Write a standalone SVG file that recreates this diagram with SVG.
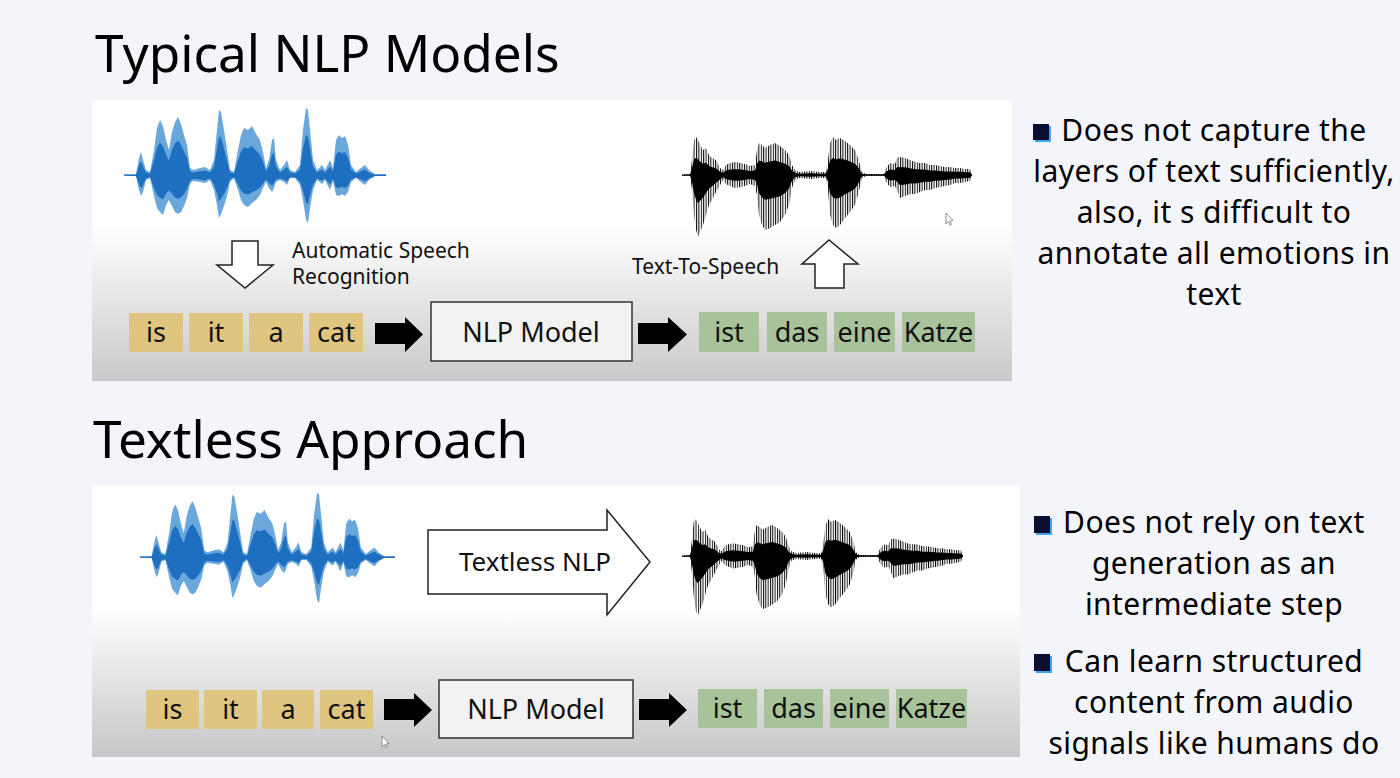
<svg xmlns="http://www.w3.org/2000/svg" width="1400" height="778" viewBox="0 0 1400 778">
<style>
.title{font-family:"Noto Sans","Open Sans",sans-serif;font-size:51.3px;fill:#000}
.lbl{font-family:"Noto Sans","Open Sans",sans-serif;font-size:21px;fill:#111}
.tok{font-family:"Noto Sans","Open Sans",sans-serif;font-size:27px;fill:#111;text-anchor:middle}
.nlp{font-family:"Noto Sans","Open Sans",sans-serif;font-size:27px;fill:#111;text-anchor:middle}
.bul{font-family:"Noto Sans","Open Sans",sans-serif;font-size:30px;letter-spacing:0.45px;fill:#000;text-anchor:middle}
.yel{fill:#dfc57f}
.grn{fill:#a8c39a}
.box{fill:#f2f2f2;stroke:#333;stroke-width:1.5}
.hollow{fill:#fff;stroke:#222;stroke-width:1.5;stroke-linejoin:miter}
.blk{fill:#000}
</style>
<defs>
<linearGradient id="g1" x1="0" y1="0" x2="0" y2="1">
<stop offset="0" stop-color="#ffffff"/>
<stop offset="0.45" stop-color="#ffffff"/>
<stop offset="1" stop-color="#c9c9c9"/>
</linearGradient>
<linearGradient id="g2" x1="0" y1="0" x2="0" y2="1">
<stop offset="0" stop-color="#ffffff"/>
<stop offset="0.45" stop-color="#ffffff"/>
<stop offset="1" stop-color="#c7c7c7"/>
</linearGradient>
<pattern id="stripes" patternUnits="userSpaceOnUse" width="2.4" height="10">
<rect x="0" y="0" width="1" height="10" fill="#000"/>
</pattern>
<path id="bluewave" d="M124,175 L136,174 L139,158 L141,152 L143,160 L146,170 L150,172 L154,150 L157,128 L160,120 L163,126 L166,140 L169,150 L172,132 L175,122 L178,117 L181,124 L184,135 L187,145 L190,168 L193,170 L200,168 L205,167 L210,170 L214,160 L217,130 L219,110 L221,112 L224,130 L227,150 L230,170 L234,172 L238,150 L241,135 L244,128 L248,130 L252,126 L256,134 L260,140 L263,152 L266,168 L269,160 L272,140 L274,138 L276,160 L280,170 L284,165 L287,160 L290,170 L295,172 L300,165 L303,130 L306,108 L308,110 L310,130 L313,160 L317,170 L322,165 L325,170 L330,160 L333,168 L336,140 L339,135 L342,138 L345,136 L348,145 L351,165 L356,172 L361,168 L365,165 L369,170 L375,174 L386,174 L386,176 L375,176 L369,180 L365,185 L361,182 L356,178 L351,182 L348,192 L345,196 L342,194 L339,196 L336,195 L333,181 L330,190 L325,180 L322,184 L317,180 L313,190 L310,208 L308,223 L306,220 L303,200 L300,185 L295,178 L290,178 L287,185 L284,182 L280,180 L276,182 L274,188 L272,192 L269,188 L266,182 L263,188 L260,195 L256,200 L252,203 L248,207 L244,205 L241,200 L238,190 L234,178 L230,182 L227,196 L224,206 L221,214 L219,218 L217,205 L214,190 L210,180 L205,183 L200,182 L193,181 L190,184 L187,198 L184,206 L181,212 L178,214 L175,212 L172,206 L169,200 L166,205 L163,215 L160,212 L157,208 L154,196 L150,178 L146,180 L143,192 L141,196 L139,190 L136,176 L124,176 Z"/>
<path id="blackwave" d="M682,175 L690,174 L692,160 L694,140 L696,137 L698,140 L700,145 L703,150 L706,148 L709,155 L712,158 L716,160 L720,168 L723,170 L726,165 L730,163 L735,162 L740,163 L745,164 L750,166 L755,165 L757,150 L759,143 L762,145 L765,148 L770,145 L775,143 L780,146 L785,150 L789,155 L792,165 L795,170 L800,172 L810,171 L820,172 L826,172 L828,160 L830,143 L833,137 L836,140 L840,138 L845,141 L850,145 L855,150 L858,158 L862,172 L866,174 L884,174 L886,168 L890,163 L895,164 L897,158 L900,157 L905,158 L910,160 L915,162 L920,163 L925,163 L930,165 L935,165 L940,166 L945,167 L950,167 L955,168 L960,168 L965,169 L970,169 L972,174 L972,176 L970,181 L965,182 L960,183 L955,183 L950,185 L945,186 L940,187 L935,188 L930,190 L925,190 L920,192 L915,194 L910,194 L905,196 L900,198 L897,190 L895,186 L890,187 L886,182 L884,176 L866,176 L862,178 L858,195 L855,205 L850,212 L845,218 L840,225 L836,228 L833,225 L830,215 L828,190 L826,178 L820,178 L810,179 L800,178 L795,180 L792,188 L789,205 L785,215 L780,222 L775,225 L770,228 L765,230 L762,225 L759,215 L757,195 L755,186 L750,184 L745,186 L740,187 L735,188 L730,186 L726,184 L723,180 L720,185 L716,192 L712,200 L709,205 L706,215 L703,225 L700,232 L698,237 L696,230 L694,215 L692,190 L690,176 L682,176 Z"/>
<g id="bluegrp">
<line x1="124" y1="175" x2="386" y2="175" stroke="#2a78c8" stroke-width="1.5"/>
<use href="#bluewave" fill="#6aa7dd"/>
<use href="#bluewave" fill="#1f6fc1" transform="translate(0,176) scale(1,0.6) translate(0,-176)"/>
</g>
<g id="blackgrp">
<line x1="682" y1="175" x2="972" y2="175" stroke="#000" stroke-width="1.2"/>
<use href="#blackwave" fill="url(#stripes)"/>
<use href="#blackwave" fill="#000" transform="translate(0,175) scale(1,0.45) translate(0,-175)"/>
</g>
</defs>
<rect x="0" y="0" width="1400" height="778" fill="#f4f5fa"/>

<g id="title1"><text class="title" x="95" y="72">Typical NLP Models</text></g>
<g id="title2"><text class="title" x="93" y="458">Textless Approach</text></g>

<!-- Panel 1 -->
<g id="panel1">
<rect x="92" y="100" width="920" height="281" fill="url(#g1)"/>
<use href="#bluegrp"/>
<use href="#blackgrp"/>
<path d="M946,213 L946,224 L948.5,221.5 L950,225 L951.5,224.3 L950,221 L953,220.5 Z" fill="#fff" stroke="#777" stroke-width="0.8"/>
</g>
<g id="asr-arrow"><path class="hollow" d="M232,241 L258,241 L258,265 L273,265 L245,288 L217,265 L232,265 Z"/></g>
<g id="asr-label"><text class="lbl" x="292" y="258">Automatic Speech</text><text class="lbl" x="292" y="284">Recognition</text></g>
<g id="tts-arrow"><path class="hollow" d="M815,288 L844,288 L844,264 L858,264 L829,240 L802,264 L815,264 Z"/></g>
<g id="tts-label"><text class="lbl" x="632" y="274">Text-To-Speech</text></g>
<g id="in1">
<rect class="yel" x="129" y="313" width="54" height="39"/><text class="tok" x="156" y="342">is</text>
<rect class="yel" x="189" y="313" width="54" height="39"/><text class="tok" x="216" y="342">it</text>
<rect class="yel" x="249" y="313" width="54" height="39"/><text class="tok" x="276" y="342">a</text>
<rect class="yel" x="309" y="313" width="54" height="39"/><text class="tok" x="336" y="342">cat</text>
</g>
<g id="nlp1"><rect class="box" x="431" y="302" width="201" height="59"/><text class="nlp" x="531" y="342">NLP Model</text></g>
<g id="out1">
<rect class="grn" x="699" y="312" width="60" height="40"/><text class="tok" x="729" y="342">ist</text>
<rect class="grn" x="767" y="312" width="60" height="40"/><text class="tok" x="797" y="342">das</text>
<rect class="grn" x="834" y="312" width="61" height="40"/><text class="tok" x="864.5" y="342">eine</text>
<rect class="grn" x="902" y="312" width="73" height="40"/><text class="tok" x="938.5" y="342">Katze</text>
</g>

<!-- Panel 2 -->
<g id="panel2">
<rect x="92" y="486" width="928" height="271" fill="url(#g2)"/>
<use href="#bluegrp" transform="translate(140,557) scale(0.973,0.96) translate(-124,-175)"/>
<use href="#blackgrp" transform="translate(682,556) scale(0.969,0.97) translate(-682,-175)"/>
<path d="M382,736 L382,747 L384.5,744.5 L386,748 L387.5,747.3 L386,744 L389,743.5 Z" fill="#fff" stroke="#777" stroke-width="0.8"/>
</g>
<g id="textless"><path class="hollow" d="M428,530 L607,530 L607,510 L650,562 L607,615 L607,594 L428,594 Z"/><text class="nlp" x="535" y="571" style="font-size:26px">Textless NLP</text></g>
<g id="in2">
<rect class="yel" x="146" y="690" width="53" height="39"/><text class="tok" x="172.5" y="719">is</text>
<rect class="yel" x="204" y="690" width="53" height="39"/><text class="tok" x="230.5" y="719">it</text>
<rect class="yel" x="262" y="690" width="52" height="39"/><text class="tok" x="288" y="719">a</text>
<rect class="yel" x="320" y="690" width="53" height="39"/><text class="tok" x="346.5" y="719">cat</text>
</g>
<g id="nlp2"><rect class="box" x="439" y="680" width="194" height="58"/><text class="nlp" x="536" y="719">NLP Model</text></g>
<g id="out2">
<rect class="grn" x="698" y="689" width="59" height="39"/><text class="tok" x="727.5" y="718">ist</text>
<rect class="grn" x="764" y="689" width="59" height="39"/><text class="tok" x="793.5" y="718">das</text>
<rect class="grn" x="830" y="689" width="59" height="39"/><text class="tok" x="859.5" y="718">eine</text>
<rect class="grn" x="896" y="689" width="71" height="39"/><text class="tok" x="931.5" y="718">Katze</text>
</g>

<g id="connectors">
<path class="blk" d="M375,323 L405,323 L405,317 L423,334.5 L405,352 L405,344 L375,344 Z"/>
<path class="blk" d="M638,323 L668,323 L668,317 L687,334.5 L668,352 L668,344 L638,344 Z"/>
<path class="blk" d="M384,699 L414,699 L414,693 L432,710 L414,727 L414,720 L384,720 Z"/>
<path class="blk" d="M639,699 L669,699 L669,693 L687,710 L669,727 L669,720 L639,720 Z"/>
</g>

<!-- Notes -->
<g id="note1">
<rect x="1035" y="126" width="16" height="16" fill="#3da5f5"/>
<rect x="1033" y="124" width="16" height="16" fill="#0a0f32"/>
<text class="bul" x="1214" y="141">Does not capture the</text>
<text class="bul" x="1214" y="182">layers of text sufficiently,</text>
<text class="bul" x="1214" y="223">also, it s difficult to</text>
<text class="bul" x="1214" y="264">annotate all emotions in</text>
<text class="bul" x="1214" y="305">text</text>
</g>
<g id="note2">
<rect x="1036" y="518" width="16" height="17" fill="#3da5f5"/>
<rect x="1034" y="516" width="16" height="17" fill="#0a0f32"/>
<text class="bul" x="1214" y="533">Does not rely on text</text>
<text class="bul" x="1214" y="574">generation as an</text>
<text class="bul" x="1214" y="615">intermediate step</text>
</g>
<g id="note3">
<rect x="1036" y="656" width="16" height="17" fill="#3da5f5"/>
<rect x="1034" y="654" width="16" height="17" fill="#0a0f32"/>
<text class="bul" x="1214" y="672">Can learn structured</text>
<text class="bul" x="1214" y="713">content from audio</text>
<text class="bul" x="1214" y="754">signals like humans do</text>
</g>
</svg>
